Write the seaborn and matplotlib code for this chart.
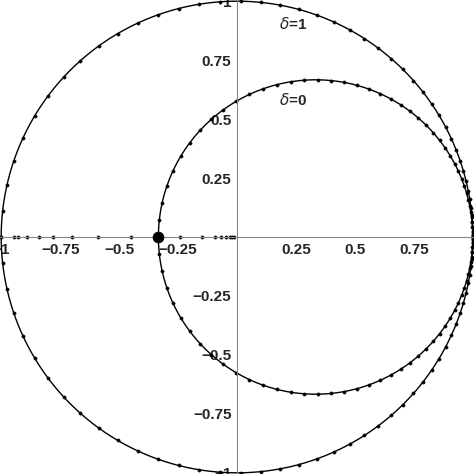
import numpy as np
import matplotlib
matplotlib.use("Agg")
import matplotlib.pyplot as plt
import seaborn as sns

sns.set_style("white")
plt.rcParams['font.family'] = ['Liberation Sans', 'DejaVu Sans']

# circle parameters (center, radius) for delta=1 and delta=0
centers = [0.0, 1/3]
radii = [1.0, 2/3]
labels = ["$\\delta$=1", "$\\delta$=0"]
label_pos = [(0.18, 0.88), (0.18, 0.56)]
# sample parameter for dots (denser toward x=1)
s_vals = np.linspace(0, 1, 46)
axis_pts = [-0.945, -0.93, -0.89, -0.84, -0.78, -0.70, -0.59, -0.45, -0.24,
            -0.15, -0.095, -0.066, -0.045, -0.03, -0.02, -0.012]
big_pt = -1/3
ticks = [-1, -0.75, -0.5, -0.25, 0.25, 0.5, 0.75]
tick_labels = ["\u22121", "\u22120.75", "\u22120.5", "\u22120.25", "0.25", "0.5", "0.75"]

fig = plt.figure(figsize=(4.74, 4.74), dpi=100)
ax = fig.add_axes([0, 0, 1, 1])
t = np.linspace(0, 2*np.pi, 600)
for c, r in zip(centers, radii):
    sns.lineplot(x=c + r*np.cos(t), y=r*np.sin(t), sort=False, estimator=None,
                 color='black', lw=1, ax=ax)
    th = np.pi * s_vals**1.6
    th = np.concatenate([th, -th])
    sns.scatterplot(x=c + r*np.cos(th), y=r*np.sin(th), s=6, color='black', edgecolor=None, ax=ax)
sns.scatterplot(x=axis_pts, y=[0]*len(axis_pts), s=6, color='black', edgecolor=None, ax=ax)
sns.scatterplot(x=[big_pt], y=[0], s=60, color='black', edgecolor=None, ax=ax, zorder=5)
for lb, (x, y) in zip(labels, label_pos):
    ax.text(x, y, lb, fontsize=11, fontweight='bold')

ax.set_xlim(-1.005, 1.005)
ax.set_ylim(-1.005, 1.005)
for sp in ['top', 'right']:
    ax.spines[sp].set_visible(False)
ax.spines['left'].set_position(('data', 0))
ax.spines['bottom'].set_position(('data', 0))
ax.spines['left'].set_color('#888888')
ax.spines['bottom'].set_color('#888888')
ax.set_xticks(ticks)
ax.set_xticklabels(tick_labels, fontsize=11, fontweight='bold')
ax.set_yticks([t_ for t_ in ticks if t_ != -1] + [-1, 1])
ax.set_yticklabels([l for l in tick_labels if l != "\u22121"] + ["\u22121", "1"], fontsize=11, fontweight='bold')
ax.set_xticks(np.arange(-1, 1.01, 0.05), minor=True)
ax.set_yticks(np.arange(-1, 1.01, 0.05), minor=True)
ax.tick_params(which='both', direction='in', color='#888888')
ax.tick_params(which='major', length=5, pad=4)
ax.tick_params(which='minor', length=2.5)
fig.savefig("out.png", dpi=100)
